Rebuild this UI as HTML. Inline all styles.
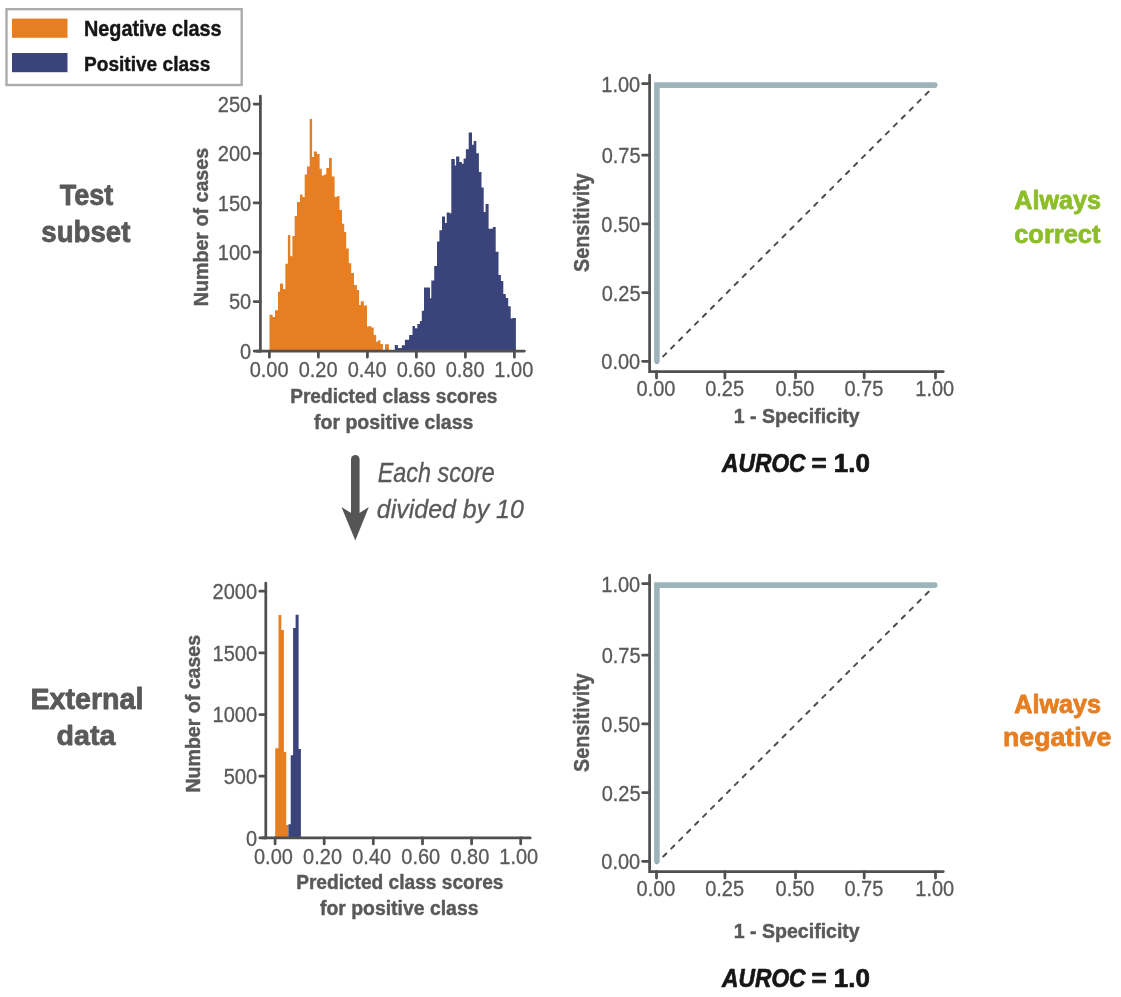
<!DOCTYPE html>
<html><head><meta charset="utf-8"><title>AUROC illustration</title>
<style>
html,body{margin:0;padding:0;background:#fff;}
svg{display:block;}
text{font-family:"Liberation Sans", Arial, sans-serif;}
</style></head>
<body>
<svg width="1121" height="997" viewBox="0 0 1121 997">
<rect width="1121" height="997" fill="#fff"/>
<rect x="6.5" y="9.2" width="235.2" height="75.8" fill="none" stroke="#ABABAB" stroke-width="2.4"/>
<rect x="12" y="18.6" width="55.5" height="19.2" fill="#E67E22"/>
<rect x="12" y="53" width="55.5" height="19.2" fill="#3B447A"/>
<path d="M269.5,350V314.8H272.6V350ZM272.6,350V316.9H275.0V350ZM275.0,350V310.2H278.0V350ZM278.0,350V291.8H280.0V350ZM280.0,350V283.5H283.0V350ZM283.0,350V289.0H285.4V350ZM285.4,350V263.7H287.9V350ZM287.9,350V234.9H290.3V350ZM290.3,350V256.3H292.4V350ZM292.4,350V236.0H294.7V350ZM294.7,350V215.9H297.0V350ZM297.0,350V202.0H300.0V350ZM300.0,350V194.6H302.5V350ZM302.5,350V196.9H304.7V350ZM304.7,350V174.4H307.0V350ZM307.0,350V166.6H309.7V350ZM309.7,350V119.0H312.1V350ZM312.1,350V157.0H313.9V350ZM313.9,350V151.5H316.9V350ZM316.9,350V154.0H319.6V350ZM319.6,350V168.7H321.8V350ZM321.8,350V175.6H324.2V350ZM324.2,350V174.4H326.3V350ZM326.3,350V168.0H329.0V350ZM329.0,350V157.9H331.8V350ZM331.8,350V176.6H334.6V350ZM334.6,350V197.0H337.2V350ZM337.2,350V196.0H339.5V350ZM339.5,350V210.0H342.0V350ZM342.0,350V223.8H344.2V350ZM344.2,350V232.1H346.2V350ZM346.2,350V248.4H348.8V350ZM348.8,350V263.3H351.2V350ZM351.2,350V273.1H354.0V350ZM354.0,350V284.9H356.9V350ZM356.9,350V290.0H359.1V350ZM359.1,350V305.0H360.8V350ZM360.8,350V301.2H363.8V350ZM363.8,350V305.5H367.0V350ZM367.0,350V326.5H369.0V350ZM369.0,350V326.0H371.2V350ZM371.2,350V327.4H373.7V350ZM373.7,350V335.0H376.2V350ZM376.2,350V341.7H378.0V350ZM378.0,350V340.3H380.4V350ZM380.4,350V344.0H382.9V350ZM385.0,350V344.3H388.9V350Z" fill="#E67E22"/>
<path d="M394.8,350V345.0H397.9V350ZM397.9,350V348.0H401.8V350ZM401.8,350V345.3H404.9V350ZM404.9,350V339.8H409.1V350ZM409.1,350V335.0H412.5V350ZM412.5,350V326.0H415.0V350ZM415.0,350V328.2H417.3V350ZM417.3,350V324.0H419.9V350ZM419.9,350V320.9H421.8V350ZM421.8,350V310.8H424.0V350ZM424.0,350V287.4H430.0V350ZM430.0,350V298.2H431.3V350ZM431.3,350V280.4H434.2V350ZM434.2,350V266.1H437.0V350ZM437.0,350V241.4H439.4V350ZM439.4,350V230.2H442.0V350ZM442.0,350V216.5H445.0V350ZM445.0,350V223.0H446.7V350ZM446.7,350V212.6H449.6V350ZM449.6,350V213.2H451.3V350ZM451.3,350V159.1H454.8V350ZM454.8,350V165.6H456.1V350ZM456.1,350V156.5H459.3V350ZM459.3,350V162.0H461.9V350ZM461.9,350V163.7H463.6V350ZM463.6,350V158.5H465.9V350ZM465.9,350V149.3H468.7V350ZM468.7,350V132.4H472.0V350ZM472.0,350V144.8H473.7V350ZM473.7,350V141.1H476.3V350ZM476.3,350V153.2H478.9V350ZM478.9,350V171.9H481.5V350ZM481.5,350V187.5H483.7V350ZM483.7,350V211.9H485.6V350ZM485.6,350V204.0H488.6V350ZM488.6,350V228.7H492.8V350ZM492.8,350V227.1H495.7V350ZM495.7,350V251.8H498.5V350ZM498.5,350V274.9H500.9V350ZM500.9,350V281.1H503.3V350ZM503.3,350V294.1H505.8V350ZM505.8,350V298.1H508.2V350ZM508.2,350V306.3H510.7V350ZM510.7,350V318.5H512.6V350ZM512.6,350V318.0H515.9V350Z" fill="#3B447A"/>
<path d="M275.2,837V748.2H278.5V837ZM278.5,837V615.0H281.3V837ZM281.3,837V629.9H283.9V837ZM283.9,837V752.1H286.2V837ZM286.2,837V824.9H288.4V837Z" fill="#E67E22"/>
<path d="M288.4,837V824.3H290.7V837ZM290.7,837V755.2H293.1V837ZM293.1,837V628.1H295.6V837ZM295.6,837V614.7H298.6V837ZM298.6,837V749.1H300.9V837Z" fill="#3B447A"/>
<path d="M260.4,96.0V351.0H524.4" fill="none" stroke="#505050" stroke-width="2.75" stroke-linecap="round"/>
<path d="M256.3,351.0H260.4" fill="none" stroke="#505050" stroke-width="2.75" stroke-linecap="round"/>
<path d="M254.1,351.0H260.4M254.1,301.6H260.4M254.1,252.2H260.4M254.1,202.8H260.4M254.1,153.4H260.4M254.1,104.0H260.4M269.4,351.0V357.2M318.4,351.0V357.2M367.4,351.0V357.2M416.4,351.0V357.2M465.4,351.0V357.2M514.4,351.0V357.2" fill="none" stroke="#505050" stroke-width="2.75" stroke-linecap="round"/>
<path d="M265.8,583.0V837.9H530.2" fill="none" stroke="#505050" stroke-width="2.75" stroke-linecap="round"/>
<path d="M262.3,837.9H265.8" fill="none" stroke="#505050" stroke-width="2.75" stroke-linecap="round"/>
<path d="M259.8,591.2H265.8M259.8,652.9H265.8M259.8,714.5H265.8M259.8,776.2H265.8M259.8,837.9H265.8M275.1,837.9V843.9M324.2,837.9V843.9M373.3,837.9V843.9M422.5,837.9V843.9M471.6,837.9V843.9M520.7,837.9V843.9" fill="none" stroke="#505050" stroke-width="2.75" stroke-linecap="round"/>
<path d="M649.6,75.2V371.6H943.3" fill="none" stroke="#505050" stroke-width="2.75" stroke-linecap="round"/>
<path d="M642.6,83.5H649.6M642.6,155.2H649.6M642.6,223.8H649.6M642.6,292.5H649.6M642.6,361.3H649.6M656.5,371.6V378.0M724.9,371.6V378.0M795.5,371.6V378.0M864.2,371.6V378.0M935.5,371.6V378.0" fill="none" stroke="#505050" stroke-width="2.75" stroke-linecap="round"/>
<path d="M656.5,363.0L935.0,85.3" fill="none" stroke="#4a4a4a" stroke-width="1.95" stroke-dasharray="4.3 6.93" stroke-dashoffset="1.85" stroke-linecap="round"/>
<path d="M656.9,360.9V85.1H934.8" fill="none" stroke="#9DB5B8" stroke-width="5.6" stroke-linecap="round" stroke-linejoin="miter"/>
<path d="M649.6,575.2V871.6H943.3" fill="none" stroke="#505050" stroke-width="2.75" stroke-linecap="round"/>
<path d="M642.6,583.5H649.6M642.6,655.2H649.6M642.6,723.8H649.6M642.6,792.5H649.6M642.6,861.3H649.6M656.5,871.6V878.0M724.9,871.6V878.0M795.5,871.6V878.0M864.2,871.6V878.0M935.5,871.6V878.0" fill="none" stroke="#505050" stroke-width="2.75" stroke-linecap="round"/>
<path d="M656.5,863.3L935.0,585.4" fill="none" stroke="#4a4a4a" stroke-width="1.95" stroke-dasharray="4.3 6.93" stroke-dashoffset="1.64" stroke-linecap="round"/>
<path d="M656.9,860.9V585.1H934.8" fill="none" stroke="#9DB5B8" stroke-width="5.6" stroke-linecap="round" stroke-linejoin="miter"/>
<path d="M355.3,459.3V514" fill="none" stroke="#555555" stroke-width="8.6" stroke-linecap="round"/>
<path d="M341.5,507.1L355.3,515.6L368.8,507.1L355.3,540.5Z" fill="#555555"/>
<text x="83.99" y="35.88" font-size="21.26" font-weight="bold" font-style="normal" fill="#161616" stroke="#161616" stroke-width="0.45" stroke-linejoin="round" textLength="137.59" lengthAdjust="spacingAndGlyphs">Negative class</text>
<text x="84.03" y="70.78" font-size="21.12" font-weight="bold" font-style="normal" fill="#161616" stroke="#161616" stroke-width="0.45" stroke-linejoin="round" textLength="126.32" lengthAdjust="spacingAndGlyphs">Positive class</text>
<text x="59.80" y="204.60" font-size="28.59" font-weight="bold" font-style="normal" fill="#595959" stroke="#595959" stroke-width="0.8" stroke-linejoin="round" textLength="53.53" lengthAdjust="spacingAndGlyphs">Test</text>
<text x="41.34" y="241.80" font-size="29.28" font-weight="bold" font-style="normal" fill="#595959" stroke="#595959" stroke-width="0.8" stroke-linejoin="round" textLength="89.00" lengthAdjust="spacingAndGlyphs">subset</text>
<text x="30.51" y="708.50" font-size="28.59" font-weight="bold" font-style="normal" fill="#595959" stroke="#595959" stroke-width="0.8" stroke-linejoin="round" textLength="112.98" lengthAdjust="spacingAndGlyphs">External</text>
<text x="56.51" y="744.60" font-size="28.32" font-weight="bold" font-style="normal" fill="#595959" stroke="#595959" stroke-width="0.8" stroke-linejoin="round" textLength="58.81" lengthAdjust="spacingAndGlyphs">data</text>
<text x="377.68" y="481.95" font-size="26.88" font-weight="normal" font-style="italic" fill="#595959" stroke="#595959" stroke-width="0.3" stroke-linejoin="round" textLength="117.05" lengthAdjust="spacingAndGlyphs">Each score</text>
<text x="376.87" y="517.85" font-size="26.55" font-weight="normal" font-style="italic" fill="#595959" stroke="#595959" stroke-width="0.3" stroke-linejoin="round" textLength="146.92" lengthAdjust="spacingAndGlyphs">divided by 10</text>
<text x="290.13" y="402.67" font-size="20.55" font-weight="bold" font-style="normal" fill="#595959" stroke="#595959" stroke-width="0.45" stroke-linejoin="round" textLength="207.32" lengthAdjust="spacingAndGlyphs">Predicted class scores</text>
<text x="314.02" y="428.57" font-size="21.04" font-weight="bold" font-style="normal" fill="#595959" stroke="#595959" stroke-width="0.45" stroke-linejoin="round" textLength="159.35" lengthAdjust="spacingAndGlyphs">for positive class</text>
<text transform="translate(208.18,306.30) rotate(-90)" x="0" y="0" font-size="21.12" font-weight="bold" font-style="normal" fill="#595959" stroke="#595959" stroke-width="0.45" stroke-linejoin="round" textLength="158.48" lengthAdjust="spacingAndGlyphs">Number of cases</text>
<text x="296.13" y="888.67" font-size="21.12" font-weight="bold" font-style="normal" fill="#595959" stroke="#595959" stroke-width="0.45" stroke-linejoin="round" textLength="207.32" lengthAdjust="spacingAndGlyphs">Predicted class scores</text>
<text x="320.02" y="915.38" font-size="20.49" font-weight="bold" font-style="normal" fill="#595959" stroke="#595959" stroke-width="0.45" stroke-linejoin="round" textLength="158.44" lengthAdjust="spacingAndGlyphs">for positive class</text>
<text transform="translate(199.88,792.60) rotate(-90)" x="0" y="0" font-size="20.98" font-weight="bold" font-style="normal" fill="#595959" stroke="#595959" stroke-width="0.45" stroke-linejoin="round" textLength="157.67" lengthAdjust="spacingAndGlyphs">Number of cases</text>
<text x="733.80" y="422.67" font-size="20.27" font-weight="bold" font-style="normal" fill="#595959" stroke="#595959" stroke-width="0.45" stroke-linejoin="round" textLength="125.95" lengthAdjust="spacingAndGlyphs">1 - Specificity</text>
<text x="722.06" y="471.55" font-size="26.31" font-weight="bold" font-style="italic" fill="#161616" stroke="#161616" stroke-width="0.7" stroke-linejoin="round" textLength="83.51" lengthAdjust="spacingAndGlyphs">AUROC</text>
<text x="811.44" y="471.75" font-size="25.32" font-weight="bold" font-style="normal" fill="#161616" stroke="#161616" stroke-width="0.7" stroke-linejoin="round" textLength="58.46" lengthAdjust="spacingAndGlyphs">= 1.0</text>
<text transform="translate(589.07,271.98) rotate(-90)" x="0" y="0" font-size="21.83" font-weight="bold" font-style="normal" fill="#595959" stroke="#595959" stroke-width="0.45" stroke-linejoin="round" textLength="98.73" lengthAdjust="spacingAndGlyphs">Sensitivity</text>
<text x="733.80" y="937.67" font-size="20.27" font-weight="bold" font-style="normal" fill="#595959" stroke="#595959" stroke-width="0.45" stroke-linejoin="round" textLength="125.95" lengthAdjust="spacingAndGlyphs">1 - Specificity</text>
<text x="722.06" y="986.55" font-size="26.31" font-weight="bold" font-style="italic" fill="#161616" stroke="#161616" stroke-width="0.7" stroke-linejoin="round" textLength="83.51" lengthAdjust="spacingAndGlyphs">AUROC</text>
<text x="811.44" y="986.75" font-size="25.32" font-weight="bold" font-style="normal" fill="#161616" stroke="#161616" stroke-width="0.7" stroke-linejoin="round" textLength="58.46" lengthAdjust="spacingAndGlyphs">= 1.0</text>
<text transform="translate(589.07,771.98) rotate(-90)" x="0" y="0" font-size="21.83" font-weight="bold" font-style="normal" fill="#595959" stroke="#595959" stroke-width="0.45" stroke-linejoin="round" textLength="98.73" lengthAdjust="spacingAndGlyphs">Sensitivity</text>
<text x="1014.31" y="208.60" font-size="26.17" font-weight="bold" font-style="normal" fill="#8DBE2A" stroke="#8DBE2A" stroke-width="0.8" stroke-linejoin="round" textLength="86.71" lengthAdjust="spacingAndGlyphs">Always</text>
<text x="1014.21" y="242.70" font-size="26.17" font-weight="bold" font-style="normal" fill="#8DBE2A" stroke="#8DBE2A" stroke-width="0.8" stroke-linejoin="round" textLength="86.22" lengthAdjust="spacingAndGlyphs">correct</text>
<text x="1014.21" y="712.60" font-size="26.17" font-weight="bold" font-style="normal" fill="#E67E22" stroke="#E67E22" stroke-width="0.8" stroke-linejoin="round" textLength="86.81" lengthAdjust="spacingAndGlyphs">Always</text>
<text x="1003.03" y="745.70" font-size="26.17" font-weight="bold" font-style="normal" fill="#E67E22" stroke="#E67E22" stroke-width="0.8" stroke-linejoin="round" textLength="108.23" lengthAdjust="spacingAndGlyphs">negative</text>
<text x="240.03" y="358.87" font-size="21.43" fill="#595959" stroke="#595959" stroke-width="0.3" textLength="11.12" lengthAdjust="spacingAndGlyphs">0</text>
<text x="228.91" y="309.47" font-size="21.43" fill="#595959" stroke="#595959" stroke-width="0.3" textLength="22.24" lengthAdjust="spacingAndGlyphs">50</text>
<text x="217.79" y="260.07" font-size="21.43" fill="#595959" stroke="#595959" stroke-width="0.3" textLength="33.36" lengthAdjust="spacingAndGlyphs">100</text>
<text x="217.79" y="210.67" font-size="21.43" fill="#595959" stroke="#595959" stroke-width="0.3" textLength="33.36" lengthAdjust="spacingAndGlyphs">150</text>
<text x="217.79" y="161.27" font-size="21.43" fill="#595959" stroke="#595959" stroke-width="0.3" textLength="33.36" lengthAdjust="spacingAndGlyphs">200</text>
<text x="217.79" y="111.87" font-size="21.43" fill="#595959" stroke="#595959" stroke-width="0.3" textLength="33.36" lengthAdjust="spacingAndGlyphs">250</text>
<text x="249.68" y="377.12" font-size="21.43" fill="#595959" stroke="#595959" stroke-width="0.3" textLength="38.91" lengthAdjust="spacingAndGlyphs">0.00</text>
<text x="298.68" y="377.12" font-size="21.43" fill="#595959" stroke="#595959" stroke-width="0.3" textLength="38.91" lengthAdjust="spacingAndGlyphs">0.20</text>
<text x="347.68" y="377.12" font-size="21.43" fill="#595959" stroke="#595959" stroke-width="0.3" textLength="38.91" lengthAdjust="spacingAndGlyphs">0.40</text>
<text x="396.68" y="377.12" font-size="21.43" fill="#595959" stroke="#595959" stroke-width="0.3" textLength="38.91" lengthAdjust="spacingAndGlyphs">0.60</text>
<text x="445.68" y="377.12" font-size="21.43" fill="#595959" stroke="#595959" stroke-width="0.3" textLength="38.91" lengthAdjust="spacingAndGlyphs">0.80</text>
<text x="494.37" y="377.12" font-size="21.43" fill="#595959" stroke="#595959" stroke-width="0.3" textLength="38.91" lengthAdjust="spacingAndGlyphs">1.00</text>
<text x="212.57" y="599.02" font-size="21.43" fill="#595959" stroke="#595959" stroke-width="0.3" textLength="44.48" lengthAdjust="spacingAndGlyphs">2000</text>
<text x="212.57" y="660.69" font-size="21.43" fill="#595959" stroke="#595959" stroke-width="0.3" textLength="44.48" lengthAdjust="spacingAndGlyphs">1500</text>
<text x="212.57" y="722.37" font-size="21.43" fill="#595959" stroke="#595959" stroke-width="0.3" textLength="44.48" lengthAdjust="spacingAndGlyphs">1000</text>
<text x="223.69" y="784.04" font-size="21.43" fill="#595959" stroke="#595959" stroke-width="0.3" textLength="33.36" lengthAdjust="spacingAndGlyphs">500</text>
<text x="245.93" y="845.72" font-size="21.43" fill="#595959" stroke="#595959" stroke-width="0.3" textLength="11.12" lengthAdjust="spacingAndGlyphs">0</text>
<text x="253.98" y="864.12" font-size="21.43" fill="#595959" stroke="#595959" stroke-width="0.3" textLength="38.91" lengthAdjust="spacingAndGlyphs">0.00</text>
<text x="303.10" y="864.12" font-size="21.43" fill="#595959" stroke="#595959" stroke-width="0.3" textLength="38.91" lengthAdjust="spacingAndGlyphs">0.20</text>
<text x="352.22" y="864.12" font-size="21.43" fill="#595959" stroke="#595959" stroke-width="0.3" textLength="38.91" lengthAdjust="spacingAndGlyphs">0.40</text>
<text x="401.34" y="864.12" font-size="21.43" fill="#595959" stroke="#595959" stroke-width="0.3" textLength="38.91" lengthAdjust="spacingAndGlyphs">0.60</text>
<text x="450.46" y="864.12" font-size="21.43" fill="#595959" stroke="#595959" stroke-width="0.3" textLength="38.91" lengthAdjust="spacingAndGlyphs">0.80</text>
<text x="499.27" y="864.12" font-size="21.43" fill="#595959" stroke="#595959" stroke-width="0.3" textLength="38.91" lengthAdjust="spacingAndGlyphs">1.00</text>
<text x="601.34" y="92.17" font-size="21.43" fill="#595959" stroke="#595959" stroke-width="0.3" textLength="38.91" lengthAdjust="spacingAndGlyphs">1.00</text>
<text x="601.65" y="163.07" font-size="21.43" fill="#595959" stroke="#595959" stroke-width="0.3" textLength="38.91" lengthAdjust="spacingAndGlyphs">0.75</text>
<text x="601.34" y="232.02" font-size="21.43" fill="#595959" stroke="#595959" stroke-width="0.3" textLength="38.91" lengthAdjust="spacingAndGlyphs">0.50</text>
<text x="601.65" y="301.07" font-size="21.43" fill="#595959" stroke="#595959" stroke-width="0.3" textLength="38.91" lengthAdjust="spacingAndGlyphs">0.25</text>
<text x="601.34" y="369.07" font-size="21.43" fill="#595959" stroke="#595959" stroke-width="0.3" textLength="38.91" lengthAdjust="spacingAndGlyphs">0.00</text>
<text x="636.58" y="396.27" font-size="21.43" fill="#595959" stroke="#595959" stroke-width="0.3" textLength="38.91" lengthAdjust="spacingAndGlyphs">0.00</text>
<text x="705.14" y="396.27" font-size="21.43" fill="#595959" stroke="#595959" stroke-width="0.3" textLength="38.91" lengthAdjust="spacingAndGlyphs">0.25</text>
<text x="775.58" y="396.27" font-size="21.43" fill="#595959" stroke="#595959" stroke-width="0.3" textLength="38.91" lengthAdjust="spacingAndGlyphs">0.50</text>
<text x="844.44" y="396.27" font-size="21.43" fill="#595959" stroke="#595959" stroke-width="0.3" textLength="38.91" lengthAdjust="spacingAndGlyphs">0.75</text>
<text x="915.27" y="396.27" font-size="21.43" fill="#595959" stroke="#595959" stroke-width="0.3" textLength="38.91" lengthAdjust="spacingAndGlyphs">1.00</text>
<text x="601.34" y="592.17" font-size="21.43" fill="#595959" stroke="#595959" stroke-width="0.3" textLength="38.91" lengthAdjust="spacingAndGlyphs">1.00</text>
<text x="601.65" y="663.07" font-size="21.43" fill="#595959" stroke="#595959" stroke-width="0.3" textLength="38.91" lengthAdjust="spacingAndGlyphs">0.75</text>
<text x="601.34" y="732.02" font-size="21.43" fill="#595959" stroke="#595959" stroke-width="0.3" textLength="38.91" lengthAdjust="spacingAndGlyphs">0.50</text>
<text x="601.65" y="801.07" font-size="21.43" fill="#595959" stroke="#595959" stroke-width="0.3" textLength="38.91" lengthAdjust="spacingAndGlyphs">0.25</text>
<text x="601.34" y="869.07" font-size="21.43" fill="#595959" stroke="#595959" stroke-width="0.3" textLength="38.91" lengthAdjust="spacingAndGlyphs">0.00</text>
<text x="636.58" y="896.27" font-size="21.43" fill="#595959" stroke="#595959" stroke-width="0.3" textLength="38.91" lengthAdjust="spacingAndGlyphs">0.00</text>
<text x="705.14" y="896.27" font-size="21.43" fill="#595959" stroke="#595959" stroke-width="0.3" textLength="38.91" lengthAdjust="spacingAndGlyphs">0.25</text>
<text x="775.58" y="896.27" font-size="21.43" fill="#595959" stroke="#595959" stroke-width="0.3" textLength="38.91" lengthAdjust="spacingAndGlyphs">0.50</text>
<text x="844.44" y="896.27" font-size="21.43" fill="#595959" stroke="#595959" stroke-width="0.3" textLength="38.91" lengthAdjust="spacingAndGlyphs">0.75</text>
<text x="915.27" y="896.27" font-size="21.43" fill="#595959" stroke="#595959" stroke-width="0.3" textLength="38.91" lengthAdjust="spacingAndGlyphs">1.00</text>
</svg>
</body></html>
